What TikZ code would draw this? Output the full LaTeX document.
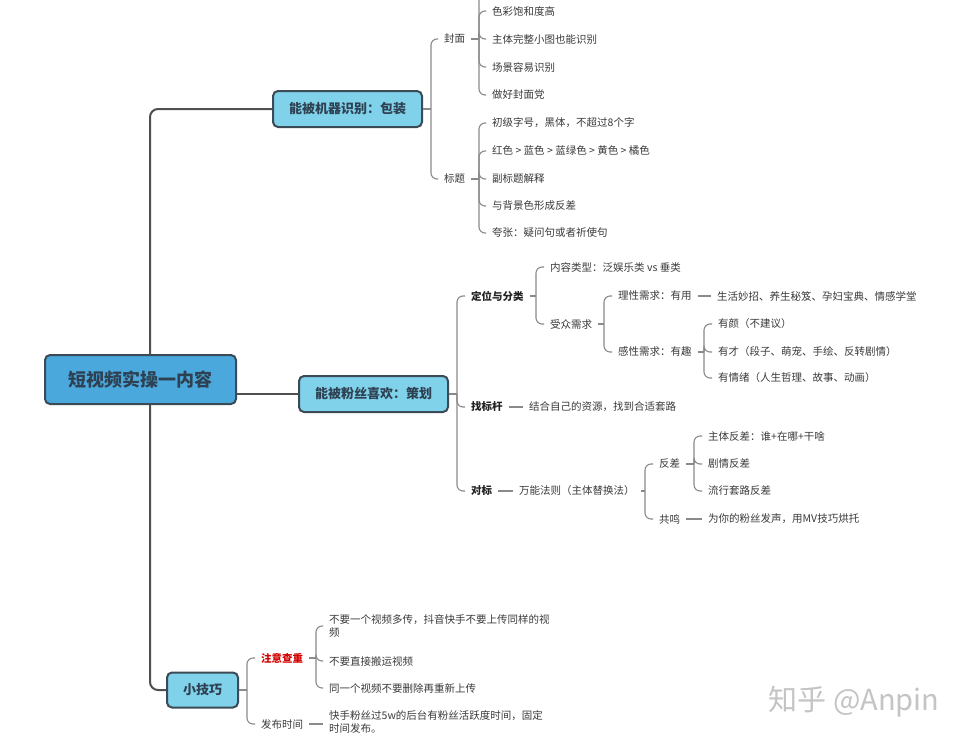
\documentclass[tikz,border=0pt]{standalone}
\usepackage{fontspec}
\setmainfont{Noto Sans CJK SC}
\definecolor{rootfill}{HTML}{4AA8DC}
\definecolor{mainfill}{HTML}{80D1EA}
\definecolor{boxline}{HTML}{3B4B56}
\definecolor{boxtext}{HTML}{2E4152}
\definecolor{leaftext}{HTML}{3A3A3A}
\definecolor{subtext}{HTML}{222222}
\definecolor{trunkcol}{HTML}{505050}
\definecolor{twigcol}{HTML}{8A8A8A}
\definecolor{warnred}{HTML}{D40000}
\definecolor{wmcol}{HTML}{C4C4C4}
\tikzset{
  rootbox/.style={draw=boxline, line width=2pt, rounded corners=5pt, fill=rootfill,
    minimum width=191pt, minimum height=49pt, inner sep=0pt,
    font=\fontsize{18}{20}\selectfont\bfseries, text=boxtext},
  mainbox/.style={draw=boxline, line width=2pt, rounded corners=5pt, fill=mainfill,
    minimum height=36pt, inner sep=0pt,
    font=\fontsize{13}{15}\selectfont\bfseries, text=boxtext},
  leaf/.style={anchor=west, inner xsep=6pt, inner ysep=2pt,
    font=\fontsize{10.5}{13}\selectfont, text=leaftext, align=left},
  subtopic/.style={leaf, font=\fontsize{10.5}{13}\selectfont\bfseries, text=subtext},
  trunk/.style={draw=trunkcol, line width=2pt, rounded corners=8pt},
  twig/.style={draw=twigcol, line width=1.1pt, rounded corners=6pt},
}
\begin{document}
\begin{tikzpicture}[x=1pt,y=-1pt]
\fill[white] (0,0) rectangle (965,744);
\useasboundingbox (0,0) rectangle (965,744);

% main boxes
\node[rootbox] (root) at (140.5,379.5) {短视频实操一内容};
\node[mainbox, minimum width=149pt] (n1) at (347.5,109) {能被机器识别：包装};
\node[mainbox, minimum width=149pt] (n2) at (373.5,394) {能被粉丝喜欢：策划};
\node[mainbox, minimum width=71pt, minimum height=35pt] (n3) at (202.5,690) {小技巧};

% trunk connectors
\coordinate (rv) at (150,379.5);
\draw[trunk] (rv |- root.north) |- (n1.west);
\draw[trunk] (rv |- root.south) |- (n3.west);
\draw[trunk] (root.east |- n2.west) -- (n2.west);

% ---------- branch 1 ----------
\node[leaf] (fm) at (438,39) {封面};
\node[leaf] (bt) at (438,179) {标题};
\coordinate (b1) at (431,109);
\draw[twig] (n1.east) -- (b1);
\draw[twig] (b1) |- (fm.west);
\draw[twig] (b1) |- (bt.west);

\node[leaf] (fm1) at (486,11) {色彩饱和度高};
\node[leaf] (fm2) at (486,39) {主体完整小图也能识别};
\node[leaf] (fm3) at (486,67) {场景容易识别};
\node[leaf] (fm4) at (486,95) {做好封面党};
\coordinate (fmcut) at (486,-17);
\coordinate (bfm) at (479,39);
\draw[twig] (fm.east) -- (bfm);
\draw[twig] (bfm) |- (fmcut);
\foreach \c in {fm1,fm2,fm3,fm4} \draw[twig] (bfm) |- (\c.west);

\node[leaf] (bt1) at (486,123) {初级字号，黑体，不超过8个字};
\node[leaf] (bt2) at (486,151) {红色 > 蓝色 > 蓝绿色 > 黄色 > 橘色};
\node[leaf] (bt3) at (486,179) {副标题解释};
\node[leaf] (bt4) at (486,206) {与背景色形成反差};
\node[leaf] (bt5) at (486,233) {夸张：疑问句或者祈使句};
\coordinate (bbt) at (479,179);
\draw[twig] (bt.east) -- (bbt);
\foreach \c in {bt1,bt2,bt3,bt4,bt5} \draw[twig] (bbt) |- (\c.west);

% ---------- branch 2 ----------
\node[subtopic] (dw) at (465,296) {定位与分类};
\node[subtopic] (zbg) at (465,407) {找标杆};
\node[subtopic] (db) at (465,491) {对标};
\coordinate (b2) at (457,394);
\draw[twig] (n2.east) -- (b2);
\foreach \c in {dw,zbg,db} \draw[twig] (b2) |- (\c.west);

\node[leaf] (nr) at (544,267) {内容类型：泛娱乐类 vs 垂类};
\node[leaf] (sz) at (544,324) {受众需求};
\coordinate (bdw) at (536,296);
\draw[twig] (dw.east) -- (bdw);
\foreach \c in {nr,sz} \draw[twig] (bdw) |- (\c.west);

\node[leaf] (lx) at (612,296) {理性需求：有用};
\node[leaf] (gx) at (612,352) {感性需求：有趣};
\coordinate (bsz) at (604,324);
\draw[twig] (sz.east) -- (bsz);
\foreach \c in {lx,gx} \draw[twig] (bsz) |- (\c.west);

\node[leaf] (sh) at (711,296) {生活妙招、养生秘笈、孕妇宝典、情感学堂};
\draw[twig] (lx.east) -- (lx.east -| sh.west);

\node[leaf] (yy) at (712,324) {有颜（不建议）};
\node[leaf] (yc) at (712,352) {有才（段子、萌宠、手绘、反转剧情）};
\node[leaf] (yq) at (712,378) {有情绪（人生哲理、故事、动画）};
\coordinate (bgx) at (704,352);
\draw[twig] (gx.east) -- (bgx);
\foreach \c in {yy,yc,yq} \draw[twig] (bgx) |- (\c.west);

\node[leaf] (jh) at (523,407) {结合自己的资源，找到合适套路};
\draw[twig] (zbg.east) -- (zbg.east -| jh.west);

\node[leaf] (wn) at (513,491) {万能法则（主体替换法）};
\draw[twig] (db.east) -- (db.east -| wn.west);

\node[leaf] (fc) at (653,464) {反差};
\node[leaf] (gm) at (653,519) {共鸣};
\coordinate (bwn) at (645,491);
\draw[twig] (wn.east) -- (bwn);
\foreach \c in {fc,gm} \draw[twig] (bwn) |- (\c.west);

\node[leaf] (zt) at (702,436) {主体反差：谁+在哪+干啥};
\node[leaf] (jq) at (702,464) {剧情反差};
\node[leaf] (lt) at (702,491) {流行套路反差};
\coordinate (bfc) at (694,464);
\draw[twig] (fc.east) -- (bfc);
\foreach \c in {zt,jq,lt} \draw[twig] (bfc) |- (\c.west);

\node[leaf] (ws) at (702,519) {为你的粉丝发声，用MV技巧烘托};
\draw[twig] (gm.east) -- (gm.east -| ws.west);

% ---------- branch 3 ----------
\node[subtopic, text=warnred] (zy) at (255,658) {注意查重};
\node[leaf] (fb) at (255,724) {发布时间};
\coordinate (b3) at (247,690);
\draw[twig] (n3.east) -- (b3);
\foreach \c in {zy,fb} \draw[twig] (b3) |- (\c.west);

\node[leaf] (a1) at (323,626) {不要一个视频多传，抖音快手不要上传同样的视\\频};
\node[leaf] (a2) at (323,661) {不要直接搬运视频};
\node[leaf] (a3) at (323,688) {同一个视频不要删除再重新上传};
\coordinate (bzy) at (316,658);
\draw[twig] (zy.east) -- (bzy);
\foreach \c in {a1,a2,a3} \draw[twig] (bzy) |- (\c.west);

\node[leaf] (k1) at (323,722) {快手粉丝过5w的后台有粉丝活跃度时间，固定\\时间发布。};
\draw[twig] (fb.east) -- (fb.east -| k1.west);

% watermark
\node[text=wmcol, font=\fontsize{29}{32}\selectfont] (wm) at (854,702) {知乎 @Anpin};
\end{tikzpicture}
\end{document}
